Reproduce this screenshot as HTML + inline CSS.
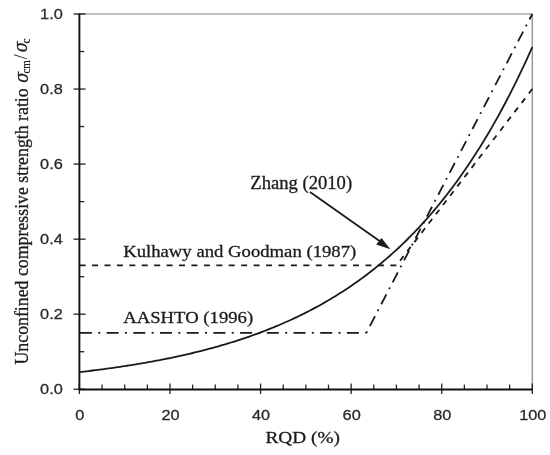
<!DOCTYPE html>
<html><head><meta charset="utf-8"><style>
html,body{margin:0;padding:0;background:#fff;}
svg{display:block;}
.tl{font-family:"Liberation Sans",sans-serif;font-size:15.4px;fill:#2a2a2a;stroke:#2a2a2a;stroke-width:0.3px;}
.sr{font-family:"Liberation Serif",serif;fill:#1c1c1c;stroke:#1c1c1c;stroke-width:0.3px;}
</style></head><body>
<svg width="550" height="455" viewBox="0 0 550 455">
<rect width="550" height="455" fill="#fff"/>
<line x1="79.4" y1="14" x2="532.3" y2="14" stroke="#aaa" stroke-width="1.3"/>
<line x1="532.3" y1="14" x2="532.3" y2="389.25" stroke="#999" stroke-width="1.5"/>
<g stroke="#222" stroke-width="1.3">
<line x1="73.5" y1="389.25" x2="85.5" y2="389.25"/><line x1="79.4" y1="351.73" x2="84.3" y2="351.73"/><line x1="73.5" y1="314.20" x2="85.5" y2="314.20"/><line x1="79.4" y1="276.68" x2="84.3" y2="276.68"/><line x1="73.5" y1="239.15" x2="85.5" y2="239.15"/><line x1="79.4" y1="201.62" x2="84.3" y2="201.62"/><line x1="73.5" y1="164.10" x2="85.5" y2="164.10"/><line x1="79.4" y1="126.57" x2="84.3" y2="126.57"/><line x1="73.5" y1="89.05" x2="85.5" y2="89.05"/><line x1="79.4" y1="51.52" x2="84.3" y2="51.52"/><line x1="73.5" y1="14.00" x2="85.5" y2="14.00"/><line x1="79.40" y1="383.5" x2="79.40" y2="394"/><line x1="102.05" y1="384.6" x2="102.05" y2="389.25"/><line x1="124.69" y1="384.6" x2="124.69" y2="389.25"/><line x1="147.34" y1="384.6" x2="147.34" y2="389.25"/><line x1="169.98" y1="383.5" x2="169.98" y2="394"/><line x1="192.62" y1="384.6" x2="192.62" y2="389.25"/><line x1="215.27" y1="384.6" x2="215.27" y2="389.25"/><line x1="237.91" y1="384.6" x2="237.91" y2="389.25"/><line x1="260.56" y1="383.5" x2="260.56" y2="394"/><line x1="283.21" y1="384.6" x2="283.21" y2="389.25"/><line x1="305.85" y1="384.6" x2="305.85" y2="389.25"/><line x1="328.50" y1="384.6" x2="328.50" y2="389.25"/><line x1="351.14" y1="383.5" x2="351.14" y2="394"/><line x1="373.78" y1="384.6" x2="373.78" y2="389.25"/><line x1="396.43" y1="384.6" x2="396.43" y2="389.25"/><line x1="419.08" y1="384.6" x2="419.08" y2="389.25"/><line x1="441.72" y1="383.5" x2="441.72" y2="394"/><line x1="464.37" y1="384.6" x2="464.37" y2="389.25"/><line x1="487.01" y1="384.6" x2="487.01" y2="389.25"/><line x1="509.65" y1="384.6" x2="509.65" y2="389.25"/><line x1="532.30" y1="383.5" x2="532.30" y2="394"/>
</g>
<line x1="79.4" y1="13.5" x2="79.4" y2="390" stroke="#111" stroke-width="1.9"/>
<line x1="78.5" y1="389.45" x2="532.3" y2="389.45" stroke="#111" stroke-width="1.9"/>
<g fill="none" stroke="#1a1a1a" stroke-width="1.8">
<path d="M79.40,372.10 L81.66,371.84 L83.93,371.58 L86.19,371.31 L88.46,371.04 L90.72,370.76 L92.99,370.49 L95.25,370.20 L97.52,369.92 L99.78,369.62 L102.05,369.33 L104.31,369.03 L106.57,368.72 L108.84,368.41 L111.10,368.10 L113.37,367.78 L115.63,367.46 L117.90,367.13 L120.16,366.79 L122.43,366.46 L124.69,366.11 L126.95,365.76 L129.22,365.41 L131.48,365.05 L133.75,364.68 L136.01,364.31 L138.28,363.94 L140.54,363.56 L142.81,363.17 L145.07,362.78 L147.34,362.38 L149.60,361.97 L151.86,361.56 L154.13,361.14 L156.39,360.72 L158.66,360.29 L160.92,359.85 L163.19,359.41 L165.45,358.96 L167.72,358.50 L169.98,358.04 L172.24,357.57 L174.51,357.09 L176.77,356.60 L179.04,356.11 L181.30,355.61 L183.57,355.11 L185.83,354.59 L188.10,354.07 L190.36,353.54 L192.62,353.00 L194.89,352.45 L197.15,351.90 L199.42,351.33 L201.68,350.76 L203.95,350.18 L206.21,349.59 L208.48,348.99 L210.74,348.39 L213.01,347.77 L215.27,347.15 L217.53,346.51 L219.80,345.87 L222.06,345.21 L224.33,344.55 L226.59,343.87 L228.86,343.19 L231.12,342.50 L233.39,341.79 L235.65,341.08 L237.91,340.35 L240.18,339.61 L242.44,338.86 L244.71,338.10 L246.97,337.33 L249.24,336.55 L251.50,335.75 L253.77,334.95 L256.03,334.13 L258.30,333.30 L260.56,332.45 L262.82,331.60 L265.09,330.73 L267.35,329.85 L269.62,328.95 L271.88,328.04 L274.15,327.12 L276.41,326.18 L278.68,325.23 L280.94,324.26 L283.21,323.28 L285.47,322.29 L287.73,321.28 L290.00,320.25 L292.26,319.21 L294.53,318.16 L296.79,317.09 L299.06,316.00 L301.32,314.89 L303.59,313.77 L305.85,312.63 L308.11,311.48 L310.38,310.31 L312.64,309.12 L314.91,307.91 L317.17,306.68 L319.44,305.44 L321.70,304.17 L323.97,302.89 L326.23,301.59 L328.50,300.26 L330.76,298.92 L333.02,297.56 L335.29,296.18 L337.55,294.77 L339.82,293.35 L342.08,291.90 L344.35,290.44 L346.61,288.95 L348.88,287.43 L351.14,285.90 L353.40,284.34 L355.67,282.76 L357.93,281.15 L360.20,279.52 L362.46,277.87 L364.73,276.19 L366.99,274.48 L369.26,272.75 L371.52,270.99 L373.78,269.21 L376.05,267.40 L378.31,265.56 L380.58,263.70 L382.84,261.81 L385.11,259.88 L387.37,257.93 L389.64,255.95 L391.90,253.94 L394.17,251.90 L396.43,249.83 L398.69,247.73 L400.96,245.60 L403.22,243.43 L405.49,241.23 L407.75,239.00 L410.02,236.73 L412.28,234.43 L414.55,232.10 L416.81,229.73 L419.08,227.32 L421.34,224.88 L423.60,222.40 L425.87,219.89 L428.13,217.33 L430.40,214.74 L432.66,212.11 L434.93,209.44 L437.19,206.73 L439.46,203.97 L441.72,201.18 L443.98,198.34 L446.25,195.46 L448.51,192.54 L450.78,189.58 L453.04,186.57 L455.31,183.51 L457.57,180.41 L459.84,177.26 L462.10,174.06 L464.37,170.82 L466.63,167.52 L468.89,164.18 L471.16,160.78 L473.42,157.34 L475.69,153.84 L477.95,150.29 L480.22,146.69 L482.48,143.03 L484.75,139.32 L487.01,135.55 L489.27,131.72 L491.54,127.84 L493.80,123.90 L496.07,119.90 L498.33,115.84 L500.60,111.71 L502.86,107.53 L505.13,103.28 L507.39,98.97 L509.65,94.59 L511.92,90.15 L514.18,85.64 L516.45,81.06 L518.71,76.41 L520.98,71.69 L523.24,66.91 L525.51,62.04 L527.77,57.11 L530.04,52.10 L532.30,47.02"/>
<path d="M79.6,265.42 L396.43,265.42" stroke-dasharray="6 6.43"/>
<path d="M532.30,89.05 L396.43,265.42" stroke-dasharray="5.7 6.02"/>
<path d="M79.9,332.96 L366.30,332.96" stroke-dasharray="12 6.35 2 6.35"/>
<path d="M532.30,14.00 L366.30,332.96" stroke-dasharray="11.1 5.87 1.85 5.87" stroke-dashoffset="4.9"/>
</g>
<g class="tl"><text transform="translate(62.8,393.85) scale(1.06,1)" text-anchor="end">0.0</text><text transform="translate(62.8,318.80) scale(1.06,1)" text-anchor="end">0.2</text><text transform="translate(62.8,243.75) scale(1.06,1)" text-anchor="end">0.4</text><text transform="translate(62.8,168.70) scale(1.06,1)" text-anchor="end">0.6</text><text transform="translate(62.8,93.65) scale(1.06,1)" text-anchor="end">0.8</text><text transform="translate(62.8,18.60) scale(1.06,1)" text-anchor="end">1.0</text><text transform="translate(79.90,419.8) scale(1.06,1)" text-anchor="middle">0</text><text transform="translate(170.48,419.8) scale(1.06,1)" text-anchor="middle">20</text><text transform="translate(261.06,419.8) scale(1.06,1)" text-anchor="middle">40</text><text transform="translate(351.64,419.8) scale(1.06,1)" text-anchor="middle">60</text><text transform="translate(442.22,419.8) scale(1.06,1)" text-anchor="middle">80</text><text transform="translate(532.80,419.8) scale(1.06,1)" text-anchor="middle">100</text></g>
<g class="sr">
<text transform="translate(250.3,188.6) scale(1.035,1)" font-size="18">Zhang (2010)</text>
<text transform="translate(123.2,256.8) scale(1.1,1)" font-size="17">Kulhawy and Goodman (1987)</text>
<text transform="translate(123.2,322.8) scale(1.1,1)" font-size="17">AASHTO (1996)</text>
<text transform="translate(265.5,442.8) scale(1.135,1)" font-size="17">RQD (%)</text>
<g transform="translate(28.1,364.5) scale(1.1,1) rotate(-90)">
<text x="0" y="0" font-size="17.8">Unconfined compressive strength ratio</text>
<text x="281.75" y="-0.45" font-size="16" font-style="italic" font-family="DejaVu Serif, serif">σ</text>
<text x="291.0" y="1.7" font-size="11" style="stroke-width:0.15px">cm</text>
<text x="305.3" y="-1.2" font-size="17.8" style="stroke:none">/</text>
<text x="312.2" y="-0.8" font-size="16" font-style="italic" font-family="DejaVu Serif, serif">σ</text>
<text x="321.0" y="1.7" font-size="11.5" style="stroke-width:0.15px">c</text>
</g>
</g>
<line x1="310" y1="191.9" x2="381" y2="242" stroke="#1a1a1a" stroke-width="1.8"/>
<polygon points="390.4,249.2 381.5,238.1 376.2,244.6" fill="#1f1a1c"/>
</svg>
</body></html>
